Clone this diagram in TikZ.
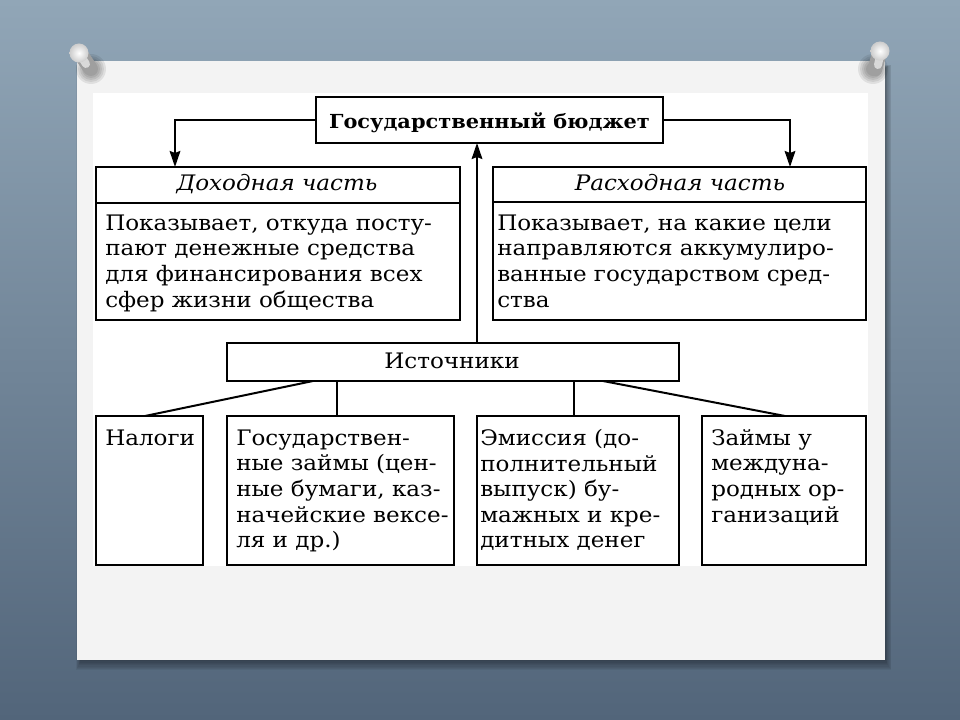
\documentclass[tikz,border=0pt]{standalone}
\usepackage{fontspec}
\setmainfont{DejaVu Serif}[FakeStretch=1.08]
\usetikzlibrary{arrows.meta,fit}
\definecolor{bgtop}{HTML}{91A6B7}
\definecolor{bgbot}{HTML}{52657A}
\definecolor{cardc}{HTML}{F3F3F3}
\newcommand\dgbody{\fontsize{16}{19.2}\selectfont}
\newcommand\fst{\rule{0pt}{12pt}}
\begin{document}
\begin{tikzpicture}[x=0.75pt,y=-0.75pt,
  box/.style={draw, line width=1.5pt, inner sep=0pt},
  txt/.style={inner sep=0pt, align=left, anchor=north west, font=\dgbody},
  ctxt/.style={inner sep=0pt, anchor=base, font=\dgbody},
  arr/.style={line width=1.5pt, -{Stealth[length=12pt,width=8pt,inset=1.5pt]}},
  con/.style={line width=1.5pt}]
\useasboundingbox (0,0) rectangle (960,720);
% background
\shade[top color=bgtop, bottom color=bgbot] (0,0) rectangle (960,720);
% card shadow
\foreach \i in {1,...,8}{
  \fill[black, opacity=0.05] (77+4-\i*0.6,62+6-\i*0.4) rectangle (885+\i*0.8,660+\i*1.3);
}
% card
\fill[cardc] (77,61) rectangle (885,660);
\fill[white] (93,93) rectangle (868,566);
% pins
\foreach \i in {1,...,6}{
  \fill[black, opacity=0.08] (91,69) circle ({3+\i*2});
  \fill[black, opacity=0.08] (873,69) circle ({3+\i*2});
}
\draw[line width=11pt, line cap=round, color=gray!75] (80,53) -- (90,68);
\draw[line width=6pt, line cap=round, color=gray!30] (79,53) -- (86,64);
\shade[inner color=white, outer color=gray!40] (79,53) circle (9.5);
\draw[line width=11pt, line cap=round, color=gray!75] (880,51) -- (875,69);
\draw[line width=6pt, line cap=round, color=gray!30] (881,51) -- (878,65);
\shade[inner color=white, outer color=gray!40] (880,51) circle (9.5);
% boxes
\node[box, fit={(316,97) (663,143)}] (top) {};
\node[box, fit={(96,167) (460,320)}] (dox) {};
\node[box, fit={(493,167) (866,320)}] (rasx) {};
\node[box, fit={(227,343) (679,381)}] (ist) {};
\node[box, fit={(96,416) (203,565)}] (nal) {};
\node[box, fit={(227,416) (454,565)}] (gz) {};
\node[box, fit={(477,416) (679,565)}] (em) {};
\node[box, fit={(702,416) (866,565)}] (zm) {};
% dividers
\coordinate (dl) at (96,203); \coordinate (dr) at (460,203);
\draw[con] (dl) -- (dr);
\coordinate (rl) at (493,202); \coordinate (rr) at (866,202);
\draw[con] (rl) -- (rr);
% texts
\node[ctxt] (toptxt) at (489.5,129) {\fontsize{14.5}{17}\selectfont\bfseries Государственный бюджет};
\node[ctxt] (doxh) at (277,191) {\itshape Доходная часть};
\node[ctxt] (rasxh) at (680,191) {\itshape Расходная часть};
\node[ctxt] (isttxt) at (452,368) {Источники};
\node[txt] (doxb) at (105,214) {\fst Показывает, откуда посту-\\пают денежные средства\\для финансирования всех\\сфер жизни общества};
\node[txt] (rasxb) at (497,214) {\fst Показывает, на какие цели\\направляются аккумулиро-\\ванные государством сред-\\ства};
\node[txt] (naltxt) at (105,429) {\fst Налоги};
\node[txt] (gztxt) at (236,429) {\fst Государствен-\\ные займы (цен-\\ные бумаги, каз-\\начейские вексе-\\ля и др.)};
\node[txt] (emtxt) at (480,429) {\fst Эмиссия (до-\\полнительный\\выпуск) бу-\\мажных и кре-\\дитных денег};
\node[txt] (zmtxt) at (711,429) {\fst Займы у\\междуна-\\родных ор-\\ганизаций};
% connectors
\coordinate (da) at (175,167);
\coordinate (ra) at (790,167);
\draw[arr] (top.west) -| (da);
\draw[arr] (top.east) -| (ra);
\coordinate (us) at (477,343);
\coordinate (ue) at (477,143);
\draw[arr] (us) -- (ue);
\coordinate (s1) at (313,381); \coordinate (e1) at (145,416);
\coordinate (s2) at (337,381); \coordinate (e2) at (337,416);
\coordinate (s3) at (574,381); \coordinate (e3) at (574,416);
\coordinate (s4) at (603,381); \coordinate (e4) at (785,416);
\draw[con] (s1) -- (e1);
\draw[con] (s2) -- (e2);
\draw[con] (s3) -- (e3);
\draw[con] (s4) -- (e4);
\end{tikzpicture}
\end{document}
